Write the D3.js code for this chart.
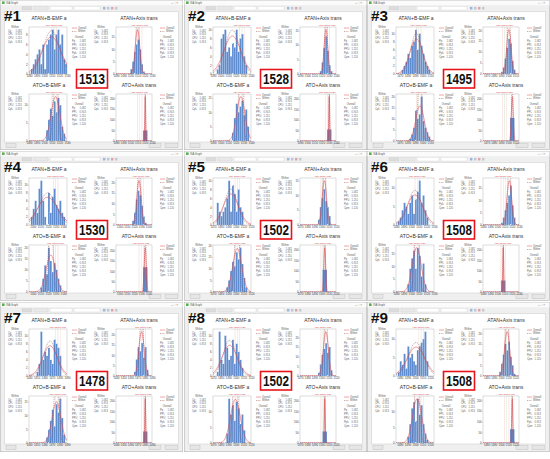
<!DOCTYPE html>
<html>
<head>
<meta charset="utf-8">
<script src="https://cdn.jsdelivr.net/npm/d3@7"></script>
<style>
  body { margin: 0; background: #fff; }
  svg { display: block; }
</style>
</head>
<body>
<svg id="chart"></svg>
<script>
// ---- data ----
const cellLabels = ["#1", "#2", "#3", "#4", "#5", "#6", "#7", "#8", "#9"];
const cellValues = [1513, 1528, 1495, 1530, 1502, 1508, 1478, 1502, 1508];
// left end of the x axis in each screenshot (axis spans 50 units)
const xStarts = [1480, 1490, 1465, 1495, 1470, 1480, 1440, 1470, 1475];
const panelTitles = ["ATAN+B-EMF a", "ATAN+Axis trans", "ATO+B-EMF a", "ATO+Axis trans"];

// histogram counts, 20 bins across the axis
const atanBemfCounts = [
  [0,1,2,3,4,5,2,6,1,6,7,8,9,5,8,9,6,8,3,2],
  [0,0,1,2,8,9,10,5,6,4,7,6,10,5,8,9,4,2,0,0],
  [0,0,0,1,2,3,5,4,7,8,11,6,10,7,5,3,2,1,0,0],
  [0,2,4,6,3,9,11,6,2,0,8,3,7,9,5,4,6,3,2,0],
  [0,0,5,3,2,3,4,6,10,3,9,7,3,8,4,3,0,0,0,0],
  [0,1,2,4,6,5,3,6,8,3,7,9,12,6,8,4,2,0,0,0],
  [0,0,0,0,1,3,11,4,6,5,7,4,3,9,8,7,5,0,0,0],
  [0,0,1,11,4,3,10,7,4,5,9,3,8,6,4,2,0,0,0,0],
  [0,1,4,3,6,2,8,5,6,4,3,7,8,9,10,12,4,0,0,0]
];
const atanAxisCounts = [
  [0,0,0,0,0,0,0,0,2,5,9,12,14,10,4,1,0,0,0,0],
  [0,0,0,0,0,0,0,0,0,0,0,1,4,9,13,8,3,1,0,0],
  [0,0,0,0,0,0,0,0,0,0,1,3,7,12,16,14,6,2,0,0],
  [0,0,0,0,0,0,0,0,0,2,6,12,16,14,9,4,1,0,0,0],
  [0,0,0,0,0,0,0,0,0,0,2,6,9,12,8,6,3,0,0,0],
  [0,0,0,0,0,0,0,0,0,0,1,3,6,9,12,16,8,3,0,0],
  [0,0,0,0,0,0,0,0,0,0,2,8,14,12,16,9,14,3,0,0],
  [0,0,0,0,0,0,0,0,0,0,2,6,11,14,17,12,15,3,0,0],
  [0,0,0,0,0,0,0,0,0,2,6,10,15,12,16,9,5,1,0,0]
];
const atoBemfCounts = [
  [0,0,0,0,0,0,0,0,0,3,6,9,7,11,8,12,10,4,2,0],
  [0,0,0,0,0,0,0,0,0,0,3,8,13,10,12,14,9,11,5,0],
  [0,0,0,0,0,0,0,1,3,6,14,10,12,20,9,6,4,2,0,0],
  [0,0,0,0,0,0,2,6,12,8,20,14,9,13,10,6,3,0,0,0],
  [0,0,0,0,0,0,0,2,5,9,13,11,17,14,19,12,6,2,0,0],
  [0,0,0,0,0,0,3,9,13,16,9,17,14,6,11,3,0,0,0,0],
  [0,0,0,0,0,0,0,0,0,2,5,8,12,6,14,11,16,9,3,0],
  [0,0,0,0,0,0,0,3,14,9,12,7,13,11,6,9,4,0,0,0],
  [0,0,0,0,0,0,2,6,11,13,7,14,9,12,6,3,1,0,0,0]
];
// 8 bins across the axis
const atoAxisCounts = [
  [0,0,0,0,0,0,50,0],
  [0,0,0,0,0,0,55,0],
  [0,0,0,0,0,0,110,0],
  [0,0,0,0,0,0,120,0],
  [0,0,0,0,0,105,0,0],
  [0,0,0,0,55,0,0,0],
  [0,0,0,0,0,0,55,0],
  [0,0,0,0,0,55,0,0],
  [0,0,0,0,0,0,65,0]
];
const atoAxisSd = [0.6, 0.65, 1.3, 1.4, 1.25, 0.65, 0.65, 0.65, 0.78];
// overall / within spread relative to the histogram spread
const curveSpread = [[1.1, 0.95], [0.8, 0.55], [1.0, 0.45]];

const withinRows = ["Cp", "CPL", "CPU", "Cpk"];
const overallRows = ["Pp", "PPL", "PPU", "Ppk", "Cpm"];
const statValues = ["1.082", "0.913", "1.251", "0.913", "1.120"];

// ---- layout ----
const width = 550, height = 459;
const cellX = [0, 184, 367], cellY = [0, 151, 302];
const cellW = 183, cellH = 150;
const panelBoxes = [
  {x: 29, y: 27, w: 38, h: 47, tx: 49, ty: 20, lx: 8, rx: 72},
  {x: 116, y: 27, w: 36, h: 47, tx: 139, ty: 20, lx: 94, rx: 160},
  {x: 29, y: 94, w: 38, h: 47, tx: 49, ty: 87, lx: 8, rx: 72},
  {x: 116, y: 94, w: 36, h: 47, tx: 139, ty: 87, lx: 94, rx: 160}
];
const barFill = "#5f8ccf";
const curveRed = "#e0474c";
const withinCol = "#8a4040";
const txtFont = "'Liberation Sans', Arial, sans-serif";

const svg = d3.select("#chart")
  .attr("width", width)
  .attr("height", height)
  .style("font-family", txtFont);

svg.append("rect").attr("width", width).attr("height", height).attr("fill", "#fff");
svg.append("defs");

function drawChrome(g) {
  g.append("rect").attr("x", 0.3).attr("y", 0.3).attr("width", cellW - 0.6).attr("height", cellH - 0.6)
    .attr("fill", "#efefef").attr("stroke", "#b5b5b5").attr("stroke-width", 0.6);
  // title bar
  g.append("rect").attr("x", 0.6).attr("y", 0.6).attr("width", cellW - 1.2).attr("height", 4.6).attr("fill", "#fbfbfb");
  g.append("rect").attr("x", 2).attr("y", 1.4).attr("width", 2.6).attr("height", 2.6).attr("fill", "#58b04c");
  g.append("text").attr("x", 6).attr("y", 3.9).attr("font-size", 2.6).attr("fill", "#555").text("ISA Graph");
  g.append("text").attr("x", cellW - 12).attr("y", 4).attr("font-size", 3).attr("fill", "#666").text("–  □  ×");
  // toolbar
  const tb = g.append("g");
  [[22, "#dcdcdc", 10], [34, "#e8e8e8", 14], [50, "#ffffff", 22], [74, "#ffffff", 26]]
    .forEach(([x, c, w]) => tb.append("rect").attr("x", x).attr("y", 6.4).attr("width", w).attr("height", 3.6)
      .attr("fill", c).attr("stroke", "#c8c8c8").attr("stroke-width", 0.3));
  [[103, "#9fb6d8"], [107, "#b9c8de"], [111, "#e3a3a3"], [115, "#c2c9d4"]]
    .forEach(([x, c]) => tb.append("rect").attr("x", x).attr("y", 6.9).attr("width", 2.4).attr("height", 2.6).attr("fill", c));
  // content
  g.append("rect").attr("x", 4.5).attr("y", 11.5).attr("width", cellW - 9).attr("height", 130.5)
    .attr("fill", "#fff").attr("stroke", "#c9c9c9").attr("stroke-width", 0.5);
  // bottom buttons
  [[6, 10], [cellW - 34, 12], [cellW - 18, 13]].forEach(([x, w]) =>
    g.append("rect").attr("x", x).attr("y", 143.8).attr("width", w).attr("height", 4)
      .attr("fill", "#e6e6e6").attr("stroke", "#a8a8a8").attr("stroke-width", 0.3));
}

function statBlock(g, x, y, header, rows) {
  g.append("text").attr("x", x + 7).attr("y", y).attr("text-anchor", "middle")
    .attr("font-size", 2.7).attr("fill", "#555").text(header);
  rows.forEach((r, i) => {
    g.append("text").attr("x", x).attr("y", y + 4 + i * 3.9).attr("font-size", 2.6).attr("fill", "#666").text(r);
    g.append("text").attr("x", x + 14).attr("y", y + 4 + i * 3.9).attr("text-anchor", "end")
      .attr("font-size", 2.6).attr("fill", "#666").text(statValues[i]);
  });
}

let clipId = 0;
function drawPanel(g, box, title, counts, lo, hi, target, sdO, sdW) {
  const n = counts.length, bw = (hi - lo) / n;
  const x = d3.scaleLinear().domain([lo, hi]).range([box.x, box.x + box.w]);
  const total = d3.sum(counts);
  const mean = d3.sum(counts, (c, i) => c * (lo + (i + 0.5) * bw)) / total;
  const pdf = s => v => total * bw * Math.exp(-((v - mean) ** 2) / (2 * s * s)) / (s * Math.sqrt(2 * Math.PI));
  const fO = pdf(sdO), fW = pdf(sdW);
  const yMax = Math.max(d3.max(counts), fO(mean)) * 1.06;
  const y = d3.scaleLinear().domain([0, yMax]).range([box.y + box.h, box.y]);

  g.append("text").attr("x", box.tx).attr("y", box.ty).attr("text-anchor", "middle")
    .attr("font-size", 5).attr("fill", "#333").text(title);

  g.append("rect").attr("x", box.x).attr("y", box.y).attr("width", box.w).attr("height", box.h)
    .attr("fill", "#fff").attr("stroke", "#a9a9a9").attr("stroke-width", 0.4);

  const id = "clip" + (clipId++);
  svg.select("defs").append("clipPath").attr("id", id)
    .append("rect").attr("x", box.x).attr("y", box.y).attr("width", box.w).attr("height", box.h);
  const plot = g.append("g").attr("clip-path", `url(#${id})`);

  plot.selectAll("rect.bar")
    .data(counts.map((c, i) => ({c, i})).filter(d => d.c > 0))
    .join("rect")
      .attr("class", "bar")
      .attr("x", d => x(lo + d.i * bw))
      .attr("width", x(lo + bw) - x(lo))
      .attr("y", d => y(d.c))
      .attr("height", d => y(0) - y(d.c))
      .attr("fill", barFill)
      .attr("stroke", "#e8eef8")
      .attr("stroke-width", 0.15);

  // spec limits
  [[target - 3, "#ee8a8a"], [target, "#7cc47a"], [target + 3, "#ee8a8a"]].forEach(([v, c]) =>
    plot.append("line").attr("x1", x(v)).attr("x2", x(v)).attr("y1", box.y).attr("y2", box.y + box.h)
      .attr("stroke", c).attr("stroke-width", 0.3).attr("opacity", 0.75));
  g.append("text").attr("x", x(target)).attr("y", box.y - 1).attr("text-anchor", "middle")
    .attr("font-size", 2.4).attr("fill", curveRed).text("LSL Target USL");

  const samples = d3.range(0, 401).map(k => lo + (hi - lo) * k / 400);
  const line = f => d3.line().x(v => x(v)).y(v => y(f(v)))(samples);
  plot.append("path").attr("d", line(fW)).attr("fill", "none")
    .attr("stroke", withinCol).attr("stroke-width", 0.45).attr("stroke-dasharray", "1.2,0.8");
  plot.append("path").attr("d", line(fO)).attr("fill", "none")
    .attr("stroke", curveRed).attr("stroke-width", 0.6);

  const xa = g.append("g").attr("transform", `translate(0,${box.y + box.h})`)
    .call(d3.axisBottom(x).ticks(5).tickFormat(d3.format("d")).tickSize(0.8).tickPadding(0.6));
  const ya = g.append("g").attr("transform", `translate(${box.x},0)`)
    .call(d3.axisLeft(y).ticks(4).tickSize(0.8).tickPadding(0.6));
  [xa, ya].forEach(a => {
    a.attr("font-size", 2.8).attr("font-family", txtFont);
    a.select(".domain").remove();
    a.selectAll("line").attr("stroke", "#999").attr("stroke-width", 0.3);
    a.selectAll("text").attr("fill", "#444");
  });

  // left within stats
  statBlock(g, box.lx, box.y + 0.5, "Within", withinRows);
  // legend and overall stats
  g.append("line").attr("x1", box.rx).attr("x2", box.rx + 5).attr("y1", box.y + 1).attr("y2", box.y + 1)
    .attr("stroke", curveRed).attr("stroke-width", 0.5);
  g.append("line").attr("x1", box.rx).attr("x2", box.rx + 5).attr("y1", box.y + 4.5).attr("y2", box.y + 4.5)
    .attr("stroke", withinCol).attr("stroke-width", 0.45).attr("stroke-dasharray", "1,0.7");
  g.append("text").attr("x", box.rx + 6).attr("y", box.y + 1.9).attr("font-size", 2.6).attr("fill", "#555").text("Overall");
  g.append("text").attr("x", box.rx + 6).attr("y", box.y + 5.4).attr("font-size", 2.6).attr("fill", "#555").text("Within");
  statBlock(g, box.rx, box.y + 11, "Overall", overallRows);
}

cellLabels.forEach((label, i) => {
  const g = svg.append("g").attr("transform", `translate(${cellX[i % 3]},${cellY[Math.floor(i / 3)]})`);
  drawChrome(g);
  const lo = xStarts[i], hi = xStarts[i] + 50, target = cellValues[i];

  const sets = [atanBemfCounts[i], atanAxisCounts[i], atoBemfCounts[i]];
  sets.forEach((counts, p) => {
    const bw = (hi - lo) / counts.length;
    const tot = d3.sum(counts);
    const m = d3.sum(counts, (c, k) => c * (lo + (k + 0.5) * bw)) / tot;
    const sd = Math.sqrt(d3.sum(counts, (c, k) => c * (lo + (k + 0.5) * bw - m) ** 2) / tot);
    drawPanel(g, panelBoxes[p], panelTitles[p], counts, lo, hi, target,
      sd * curveSpread[p][0], sd * curveSpread[p][1]);
  });
  drawPanel(g, panelBoxes[3], panelTitles[3], atoAxisCounts[i], lo, hi, target,
    atoAxisSd[i], atoAxisSd[i] * 0.6);

  // boxed total
  g.append("rect").attr("x", 76.5).attr("y", 69.5).attr("width", 31).attr("height", 18.5)
    .attr("fill", "#fff").attr("stroke", "#e8141b").attr("stroke-width", 1.6);
  g.append("text").attr("x", 92).attr("y", 83.6).attr("text-anchor", "middle")
    .attr("font-size", 14.5).attr("font-weight", "bold").attr("fill", "#111")
    .attr("textLength", 26).attr("lengthAdjust", "spacingAndGlyphs")
    .text(cellValues[i]);

  g.append("text").attr("x", 4).attr("y", 21).attr("font-size", 15).attr("font-weight", "bold")
    .attr("fill", "#111").attr("textLength", 17).attr("lengthAdjust", "spacingAndGlyphs")
    .text(label);
});
</script>
</body>
</html>
